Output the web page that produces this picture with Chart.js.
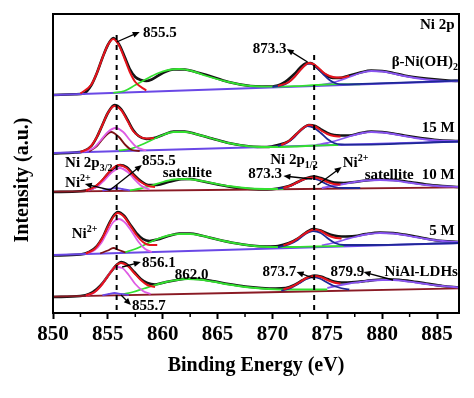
<!DOCTYPE html>
<html>
<head>
<meta charset="utf-8">
<script src="https://cdn.jsdelivr.net/npm/chart.js@4.4.1/dist/chart.umd.min.js"></script>
<style>
  html, body { margin: 0; padding: 0; background: #fff; }
  canvas { display: block; }
</style>
</head>
<body>
<canvas id="xps" width="474" height="398"></canvas>
<script>
// Ni 2p XPS spectra, stacked (intensity in arbitrary units, offset per sample)
// each curve = [binding energy (eV), intensity]

// --- beta-Ni(OH)2 (top)
var niohBase = [[850, 218], [887, 232]];
var niohData = [[850, 218], [852, 218.7], [852.8, 219.5], [853.5, 228], [854, 240], [854.5, 255], [855, 268], [855.5, 275], [856, 269], [856.5, 257], [857, 244], [857.5, 236], [858, 233], [858.5, 232], [859, 233.5], [860, 240], [861, 243.5], [862, 243.5], [863, 241], [864, 238], [866, 231], [868, 227], [869, 226.5], [870, 226.5], [871, 230], [872, 239], [872.5, 245], [873, 249.5], [873.5, 250], [874, 246], [874.5, 241], [875, 237], [875.5, 235], [876, 235], [877, 237.5], [878, 240.5], [879, 242.5], [880, 242], [881, 240], [882, 237.5], [884, 234.5], [886, 232.5], [887, 232]];
var niohPeak1 = [[852.5, 219.5], [853.5, 228.5], [854, 240], [854.5, 255], [855, 268], [855.5, 274], [856, 268], [856.5, 255], [857, 241], [857.5, 231], [858.5, 222.5]];
var niohSat1 = [[855.5, 220.2], [856.5, 222], [857.5, 228], [858.5, 234], [859.5, 239.5], [860.5, 243], [861.5, 244], [862.5, 242.5], [864, 237], [866, 231], [868, 227], [870, 226.3], [872, 226.8], [874, 228], [876, 228.8], [878, 228.6]];
var niohPeak2 = [[870, 226], [871, 228], [871.5, 231], [872, 236], [872.5, 242.5], [873, 248], [873.3, 249.5], [873.7, 248.5], [874.2, 244], [874.7, 238], [875.2, 233], [875.8, 229.5], [876.5, 228.6], [877.5, 228.8], [887, 232.5]];
var niohFit2 = [[870.5, 227], [871.5, 231], [872, 236], [872.5, 242.5], [873, 248], [873.3, 250], [873.7, 249], [874.2, 245], [874.7, 240], [875.2, 237], [875.8, 235.5], [876.3, 235.5], [877, 237]];
var niohSat2 = [[874, 227.3], [875, 229], [876, 232], [877, 236], [878, 240], [879, 242], [880, 241.5], [881, 239.5], [882, 237], [883, 235], [884, 233.5], [885, 232.5], [886, 232], [887, 232]];

// --- 15 M
var m15Base = [[850, 160], [887, 171.5]];
var m15Data = [[850, 159.5], [852, 160.5], [852.7, 161.5], [853.5, 167], [854, 176], [854.5, 188], [855, 200], [855.6, 208], [856.2, 204], [856.8, 193], [857.3, 183], [857.8, 177], [858.5, 174], [859.2, 175], [860, 178], [861, 181.5], [862, 181.5], [863, 179], [864.5, 174.5], [866, 170], [868, 166.5], [869.5, 166], [870.5, 168], [871.5, 172], [872.2, 179], [872.8, 185], [873.3, 188], [873.9, 187], [874.5, 183], [875, 180], [875.6, 178], [876.2, 177.5], [877, 177.5], [878, 180], [879, 181.5], [880, 181], [881, 179.5], [882, 177.5], [883.5, 175], [885, 173], [887, 172]];
var m15Fit1 = [[852.5, 161], [853.3, 165], [854, 176], [854.5, 188], [855, 200], [855.6, 207], [856.2, 203], [856.8, 192], [857.3, 182], [857.8, 177], [858.5, 174.5], [859.2, 175]];
var m15Pink = [[852.8, 161.5], [853.7, 165], [854.3, 172], [855, 181], [855.7, 185], [856.4, 181], [857, 173], [857.6, 166], [858.5, 162.5]];
var m15Minor = [[853.3, 161.5], [854, 167], [854.6, 175], [855.3, 181], [856, 176], [856.6, 168], [857.2, 163], [857.9, 162]];
var m15Sat1 = [[856, 162.5], [857, 164], [858, 168], [859, 173], [860, 178], [861, 181], [862, 181], [863, 179], [864.5, 174.5], [866, 170], [868, 166.5], [870, 166], [872, 166.5], [874, 167.5], [876, 168]];
var m15Peak2 = [[870.5, 167], [871.3, 170], [872, 176], [872.6, 183], [873.2, 187], [873.8, 185], [874.4, 180], [875, 174], [875.6, 170], [876.3, 168.5], [877, 168.3], [887, 171.5]];
var m15Fit2 = [[870.8, 168], [871.5, 172], [872.2, 179], [872.8, 185], [873.3, 188], [873.9, 186.5], [874.5, 182], [875, 179], [875.6, 177], [876.2, 176.5]];
var m15Sat2 = [[874, 168], [875, 170], [876, 173], [877, 176.5], [878, 179.5], [879, 181], [880, 180.5], [881, 179], [882, 177], [883, 175], [884, 173.5], [885, 172.5], [887, 172]];

// --- 10 M
var m10Base = [[850, 121.3], [887, 125.7]];
var m10Data = [[850, 121], [852.5, 121.8], [853.5, 124], [854.3, 130], [855, 139], [855.6, 145], [856.1, 148], [856.7, 146], [857.3, 139], [858, 132], [858.7, 128], [859.5, 128], [860.5, 131], [861.5, 133.5], [862.5, 134], [863.5, 132], [865, 128.5], [866.5, 125.5], [868, 124], [869.5, 123.5], [870.5, 124.5], [871.5, 127], [872.3, 131], [873, 134.5], [873.7, 136.5], [874.4, 135], [875, 132.5], [875.6, 130.5], [876.5, 130], [877.5, 131], [878.5, 132.5], [879.8, 133.5], [881, 133], [882.5, 131], [884, 128.5], [885.5, 127], [887, 126]];
var m10Fit1 = [[853, 122.5], [853.8, 126], [854.5, 133], [855.2, 142], [856, 148], [856.7, 145], [857.3, 138], [858, 131], [858.7, 127], [859.3, 126]];
var m10Pink = [[853.2, 122.5], [854, 126], [854.7, 133], [855.4, 141], [856.1, 145], [856.8, 141], [857.4, 134], [858, 127.5], [858.8, 123.5]];
var m10Minor = [[854.5, 122.3], [855.2, 124], [855.7, 125], [856.3, 124], [857, 122.5]];
var m10Sat1 = [[857, 122.5], [858, 124.5], [859, 127.5], [860, 131], [861, 133.5], [862, 134], [863, 133], [864.5, 130], [866, 127], [868, 124.5], [870, 124], [871, 124]];
var m10Peak2 = [[870.5, 124.3], [871.5, 126.5], [872.3, 130.5], [873, 134], [873.5, 135], [874.2, 133], [874.9, 129], [875.6, 126], [876.5, 125], [878, 125]];
var m10Fit2 = [[871, 125], [871.8, 128], [872.5, 132], [873.2, 135], [873.8, 135.5], [874.4, 134], [875, 131], [875.6, 129], [876.2, 128.5]];
var m10Sat2 = [[874.5, 125], [875.5, 127], [876.5, 129], [877.5, 131], [878.5, 132.5], [879.8, 133], [881, 132.5], [882, 131], [883, 129.5], [884, 128], [885, 127], [887, 126]];

// --- 5 M
var m5Base = [[850, 58], [887, 70]];
var m5Data = [[850, 57.5], [852.5, 58.5], [853.3, 61], [854, 67], [854.5, 75], [855, 87], [855.5, 97], [855.9, 101], [856.5, 97], [857, 89], [857.6, 80], [858.2, 74], [858.8, 72], [859.5, 73.5], [860.5, 77], [861.5, 79.5], [862.5, 79.5], [863.5, 77.5], [865, 73.5], [866.5, 70], [868, 67.5], [869.5, 66.5], [870.5, 67], [871.5, 70], [872.3, 74.5], [873, 80], [873.7, 84], [874.4, 82.5], [875, 79.5], [875.6, 77.5], [876.3, 76.5], [877.5, 77], [878.5, 79], [879.8, 80.5], [881, 80], [882, 78.5], [883.5, 75.5], [885, 72.5], [887, 71]];
var m5Fit1 = [[853, 59.5], [853.8, 64], [854.4, 73], [855, 86], [855.5, 96], [855.9, 100], [856.5, 96], [857, 88], [857.6, 78], [858.2, 71], [858.8, 68], [859.5, 68]];
var m5Pink = [[853, 59.3], [853.8, 63], [854.4, 70], [855, 82], [855.5, 91], [856, 94], [856.6, 90], [857.2, 81], [857.8, 71], [858.4, 64], [859, 61]];
var m5Minor = [[854.3, 59.5], [855, 62.5], [855.5, 65], [856, 63], [856.6, 60.5]];
var m5Sat1 = [[856.5, 60.5], [857.5, 64], [858.5, 69], [859.5, 74], [860.5, 77.5], [861.5, 79], [862.5, 79], [863.5, 77.5], [865, 73.5], [866.5, 70], [868, 67.5], [870, 66], [872, 66], [874, 66.5], [876.5, 67]];
var m5Peak2 = [[870.5, 66], [871.5, 68.5], [872.3, 73], [873, 79], [873.7, 82], [874.4, 80], [875, 75], [875.7, 70], [876.5, 68], [878, 68], [887, 70]];
var m5Fit2 = [[871, 67.5], [871.8, 71], [872.5, 76], [873.2, 81], [873.8, 83.5], [874.4, 82], [875, 78], [875.6, 75.5], [876.3, 74.5]];
var m5Sat2 = [[874.5, 67.5], [875.5, 70], [876.5, 73], [877.5, 76], [878.5, 78.5], [879.8, 80], [881, 79.5], [882, 78], [883, 76], [884, 74], [885, 72.5], [886, 71.5], [887, 71]];

// --- NiAl-LDHs (bottom)
var ldhBase = [[850, 16.3], [887, 24.7]];
var ldhData = [[850, 16], [852.5, 17], [853.3, 19], [854, 24], [854.6, 31], [855.2, 40], [855.8, 48], [856.2, 51], [856.8, 48], [857.4, 41], [858, 34], [858.6, 30], [859.3, 28.5], [860.3, 31], [861.3, 33], [862.3, 34.5], [863.3, 34], [864.5, 32], [866, 29], [867.5, 26.5], [869, 25], [870.3, 24.5], [871.2, 25], [872, 28], [872.7, 32.5], [873.3, 36], [873.8, 37.5], [874.4, 36.5], [875, 34], [875.6, 31.5], [876.3, 30.5], [877.5, 31], [878.5, 32], [880, 33.5], [881, 33.5], [882.5, 32], [884, 29.5], [885.5, 27], [887, 25.5]];
var ldhFit1 = [[853, 17.5], [853.8, 21], [854.5, 29], [855.2, 40], [855.8, 48], [856.2, 50], [856.8, 47], [857.4, 40], [858, 33], [858.6, 28], [859.3, 26]];
var ldhPink = [[853, 17.3], [853.7, 20], [854.3, 26], [855, 37], [855.7, 46], [856.3, 45], [856.9, 38], [857.5, 29], [858.2, 22], [858.9, 19]];
var ldhMinor = [[854.5, 17.6], [855.1, 19], [855.6, 20], [856.2, 19], [856.9, 18]];
var ldhSat1 = [[856.3, 18.5], [857.3, 21], [858.3, 24.5], [859.3, 28], [860.3, 31], [861.3, 33], [862.3, 34], [863.3, 33.5], [864.5, 31.5], [866, 28.5], [867.5, 26], [869, 24.5], [871, 23.5], [873, 23.5], [875, 23.5]];
var ldhPeak2 = [[870.8, 22.5], [871.7, 25], [872.4, 29.5], [873.1, 34], [873.7, 36], [874.3, 34.5], [874.9, 31], [875.5, 27.5], [876.2, 25], [877, 23.5]];
var ldhFit2 = [[871, 23.5], [871.8, 26.5], [872.5, 31], [873.2, 35.5], [873.8, 37], [874.4, 36], [875, 33], [875.6, 30.5], [876.2, 29.5]];
var ldhSat2 = [[875, 25], [876, 27.5], [877, 29.5], [878, 31], [879, 32.5], [880, 33], [881, 33], [882, 32], [883, 30.5], [884, 29], [885, 27.5], [886, 26.5], [887, 25.5]];

// reference positions of the Ni 2p3/2 and 2p1/2 main peaks (dashed lines)
var refEnergies = [855.8, 873.8];
var refTops = [278, 263];

// text annotations: [text, script] parts, anchor in data units
var notes = [
  { parts: [['855.5']], x: 858.2, y: 280, align: 'left' },
  { parts: [['873.3']], x: 868.2, y: 264, align: 'left' },
  { parts: [['Ni 2p']], x: 886.6, y: 288, align: 'right' },
  { parts: [['\u03B2-Ni(OH)'], ['2', 'sub']], x: 886.9, y: 251, align: 'right' },
  { parts: [['15 M']], x: 886.6, y: 185, align: 'right' },
  { parts: [['Ni 2p'], ['3/2', 'sub']], x: 851.1, y: 150, align: 'left' },
  { parts: [['Ni'], ['2+', 'sup']], x: 851.1, y: 130, align: 'left' },
  { parts: [['855.5']], x: 858.1, y: 152, align: 'left' },
  { parts: [['satellite']], x: 860.0, y: 140, align: 'left' },
  { parts: [['Ni 2p'], ['1/2', 'sub']], x: 869.8, y: 153, align: 'left' },
  { parts: [['873.3']], x: 867.8, y: 139, align: 'left' },
  { parts: [['Ni'], ['2+', 'sup']], x: 876.4, y: 150, align: 'left' },
  { parts: [['satellite']], x: 878.4, y: 138, align: 'left' },
  { parts: [['10 M']], x: 886.6, y: 138, align: 'right' },
  { parts: [['5 M']], x: 886.6, y: 82, align: 'right' },
  { parts: [['Ni'], ['2+', 'sup']], x: 851.7, y: 79, align: 'left' },
  { parts: [['856.1']], x: 858.1, y: 50, align: 'left' },
  { parts: [['862.0']], x: 861.1, y: 38, align: 'left' },
  { parts: [['873.7']], x: 869.1, y: 41, align: 'left' },
  { parts: [['879.9']], x: 875.3, y: 41, align: 'left' },
  { parts: [['NiAl-LDHs']], x: 886.9, y: 41, align: 'right' },
  { parts: [['855.7']], x: 857.2, y: 7, align: 'left' }
];

// arrows: from peak to label (head at second point)
var pointers = [
  [[855.8, 271], [857.9, 281]],
  [[873.2, 251], [871.3, 264]],
  [[855.2, 123], [852.9, 129]],
  [[855.2, 123], [858.1, 148]],
  [[873.6, 134], [871.0, 137]],
  [[874.1, 128], [876.3, 146]],
  [[856.3, 46], [858.0, 51]],
  [[873.7, 35], [872.2, 41]],
  [[881.0, 33], [878.3, 41]],
  [[856.2, 18], [857.1, 8]]
];

var RED = '#e5141c', BLACK = '#141414', PINK = '#de5ce4', BROWN = '#7c1014',
    GREEN = '#33e030', NAVY = '#1e2896', VIOLET = '#8a55f2', BASE_V = '#6a48e6', BASE_M = '#8a1a24';
var SERIF = "'Liberation Serif', 'Times New Roman', serif";

function curve(points, color, order, width) {
  return {
    data: points.map(function (p) { return { x: p[0], y: p[1] }; }),
    borderColor: color,
    borderWidth: width || 1.8,
    pointRadius: 0,
    fill: false,
    tension: 0.4,
    cubicInterpolationMode: 'monotone',
    order: order
  };
}

// higher order = drawn first (underneath)
var datasets = [];
function addSpectrum(base, baseColor, data, fit1, pink, minor, minorColor, sat1, peak2, fit2, sat2) {
  datasets.push(curve(data, BLACK, 9, 2.6));
  datasets.push(curve(base, baseColor, 8, 1.8));
  datasets.push(curve(sat1, GREEN, 6));
  datasets.push(curve(sat2, VIOLET, 6));
  if (pink) datasets.push(curve(pink, PINK, 5));
  if (minor) datasets.push(curve(minor, minorColor, 5));
  datasets.push(curve(peak2, NAVY, 5));
  datasets.push(curve(fit1, RED, 3, 2));
  if (fit2) datasets.push(curve(fit2, RED, 4, 2));
}

addSpectrum(niohBase, BASE_V, niohData, niohPeak1, null, null, null, niohSat1, niohPeak2, niohFit2, niohSat2);
addSpectrum(m15Base, BASE_V, m15Data, m15Fit1, m15Pink, m15Minor, BROWN, m15Sat1, m15Peak2, m15Fit2, m15Sat2);
addSpectrum(m10Base, BASE_M, m10Data, m10Fit1, m10Pink, m10Minor, BASE_V, m10Sat1, m10Peak2, m10Fit2, m10Sat2);
addSpectrum(m5Base, BASE_V, m5Data, m5Fit1, m5Pink, m5Minor, BROWN, m5Sat1, m5Peak2, m5Fit2, m5Sat2);
addSpectrum(ldhBase, BASE_M, ldhData, ldhFit1, ldhPink, ldhMinor, BASE_V, ldhSat1, ldhPeak2, ldhFit2, ldhSat2);

// dashed reference lines
refEnergies.forEach(function (e, i) {
  datasets.push({
    data: [{ x: e, y: 3 }, { x: e, y: refTops[i] }],
    borderColor: '#000',
    borderWidth: 2,
    borderDash: [5, 5],
    pointRadius: 0,
    tension: 0,
    order: 0
  });
});

function drawRich(ctx, parts, px, py, align) {
  var big = 'bold 15px ' + SERIF, small = 'bold 10px ' + SERIF;
  var w = 0;
  parts.forEach(function (p) { ctx.font = p[1] ? small : big; w += ctx.measureText(p[0]).width; });
  var cx = align === 'right' ? px - w : px;
  parts.forEach(function (p) {
    ctx.font = p[1] ? small : big;
    var dy = p[1] === 'sup' ? -5 : (p[1] === 'sub' ? 5 : 0);
    ctx.fillText(p[0], cx, py + dy);
    cx += ctx.measureText(p[0]).width;
  });
}

function drawArrow(ctx, x1, y1, x2, y2) {
  var a = Math.atan2(y2 - y1, x2 - x1), L = 7, W = 3;
  ctx.beginPath();
  ctx.moveTo(x1, y1);
  ctx.lineTo(x2 - L * 0.7 * Math.cos(a), y2 - L * 0.7 * Math.sin(a));
  ctx.stroke();
  ctx.beginPath();
  ctx.moveTo(x2, y2);
  ctx.lineTo(x2 - L * Math.cos(a) + W * Math.sin(a), y2 - L * Math.sin(a) - W * Math.cos(a));
  ctx.lineTo(x2 - L * Math.cos(a) - W * Math.sin(a), y2 - L * Math.sin(a) + W * Math.cos(a));
  ctx.closePath();
  ctx.fill();
}

// frame, minor ticks, y title, labels and arrows
var decorPlugin = {
  id: 'decor',
  afterDraw: function (chart) {
    var ctx = chart.ctx, xs = chart.scales.x, ys = chart.scales.y, area = chart.chartArea;
    ctx.save();
    ctx.strokeStyle = '#000';
    ctx.fillStyle = '#000';
    ctx.lineWidth = 2;
    ctx.strokeRect(area.left, area.top, area.right - area.left, area.bottom - area.top);

    ctx.lineWidth = 1.5;
    xs.ticks.forEach(function (t) {
      if (t.value % 5 !== 0) {
        var px = xs.getPixelForValue(t.value);
        ctx.beginPath();
        ctx.moveTo(px, area.bottom);
        ctx.lineTo(px, area.bottom + 4);
        ctx.stroke();
      }
    });

    // y axis title
    ctx.save();
    ctx.translate(23, 180);
    ctx.rotate(-Math.PI / 2);
    ctx.font = 'bold 20px ' + SERIF;
    ctx.textAlign = 'center';
    ctx.textBaseline = 'middle';
    ctx.fillText('Intensity (a.u.)', 0, 0);
    ctx.restore();

    ctx.lineWidth = 1.3;
    pointers.forEach(function (p) {
      drawArrow(ctx, xs.getPixelForValue(p[0][0]), ys.getPixelForValue(p[0][1]),
        xs.getPixelForValue(p[1][0]), ys.getPixelForValue(p[1][1]));
    });

    ctx.textAlign = 'left';
    ctx.textBaseline = 'middle';
    notes.forEach(function (n) {
      drawRich(ctx, n.parts, xs.getPixelForValue(n.x), ys.getPixelForValue(n.y), n.align);
    });
    ctx.restore();
  }
};

var chartXps = new Chart(document.getElementById('xps'), {
  type: 'line',
  data: { datasets: datasets },
  options: {
    responsive: false,
    animation: false,
    devicePixelRatio: 1,
    layout: { padding: { top: 14, right: 15, left: 0, bottom: 0 } },
    plugins: { legend: { display: false }, tooltip: { enabled: false } },
    scales: {
      x: {
        type: 'linear',
        min: 850,
        max: 887,
        afterFit: function (scale) { scale.height = 85; },
        border: { display: false },
        grid: {
          drawOnChartArea: false,
          drawTicks: true,
          tickLength: 6,
          tickWidth: 2,
          tickColor: function (c) { return c.tick && c.tick.value % 5 === 0 ? '#000' : 'rgba(0,0,0,0)'; }
        },
        ticks: {
          stepSize: 2.5,
          includeBounds: false,
          autoSkip: false,
          maxRotation: 0,
          padding: 3,
          color: '#000',
          font: { family: SERIF, size: 21, weight: 'bold' },
          callback: function (v) { return v % 5 === 0 ? v : ''; }
        },
        title: {
          display: true,
          text: 'Binding Energy (eV)',
          color: '#000',
          font: { family: SERIF, size: 20, weight: 'bold' },
          padding: { top: 0, bottom: 20 }
        }
      },
      y: {
        min: 0,
        max: 299,
        afterFit: function (scale) { scale.width = 53; },
        border: { display: false },
        grid: { display: false },
        ticks: { display: false }
      }
    }
  },
  plugins: [decorPlugin]
});
</script>
</body>
</html>
